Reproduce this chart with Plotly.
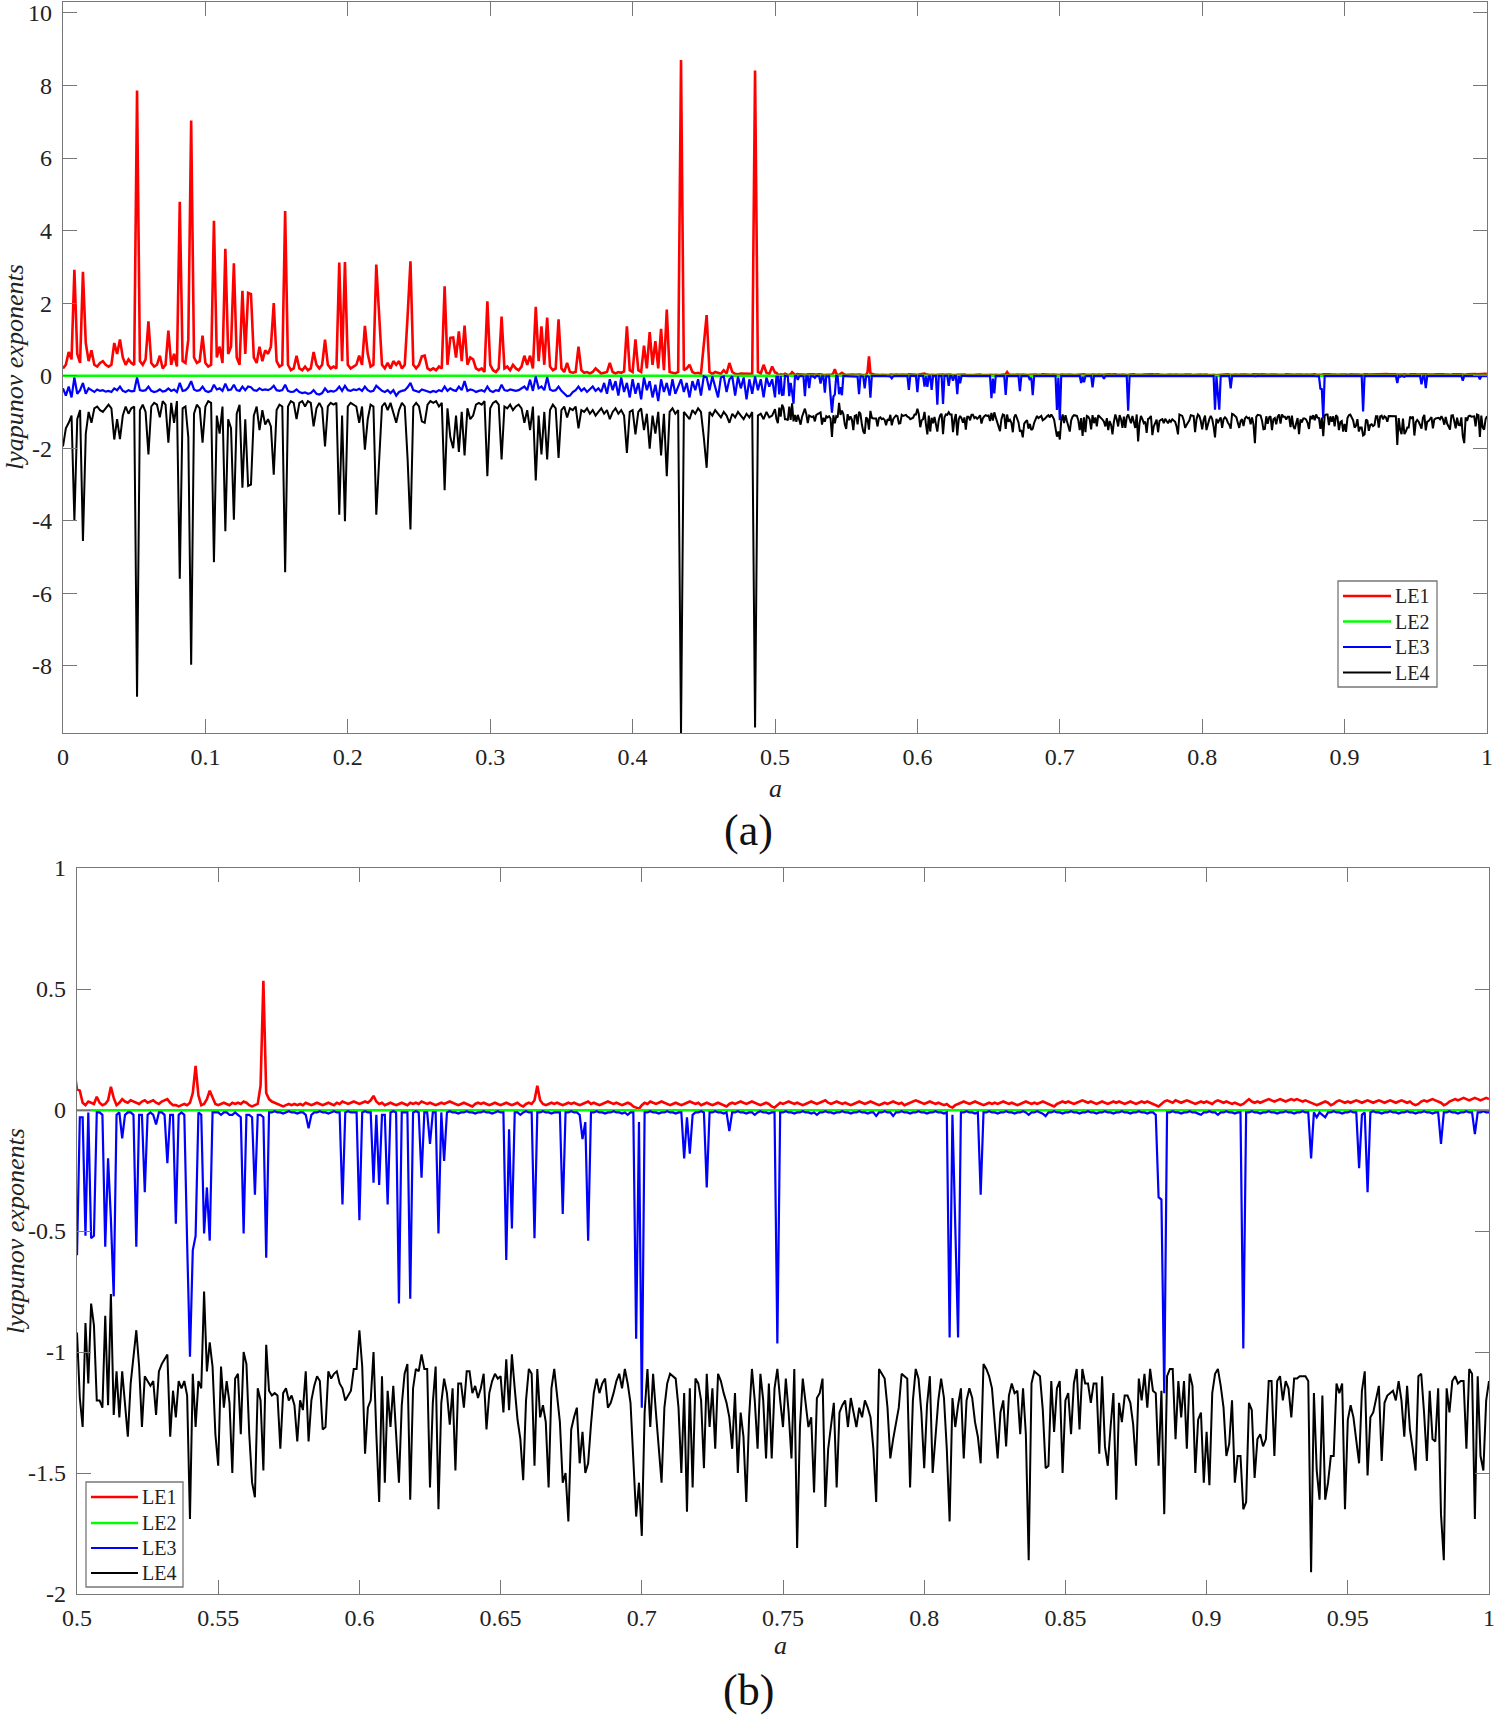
import numpy as np
import plotly.graph_objects as go

W, H = 1494, 1716

a_lo = np.round(np.arange(250) * 0.002, 3)
a_hi = np.round(0.5 + np.arange(501) * 0.001, 3)
a = np.concatenate([a_lo, a_hi])

le1_lo = [
    0.2, 0.3, 0.65, 0.45, 2.92, 0.6, 0.35, 2.86, 0.9, 0.4, 0.7, 0.3, 0.25, 0.35, 0.4, 0.3, 0.25, 0.3, 0.9, 0.6, 1.0, 0.5, 0.3, 0.45, 0.35,
    0.3, 7.86, 0.4, 0.3, 0.45, 1.5, 0.35, 0.25, 0.3, 0.55, 0.2, 0.3, 1.24, 0.3, 0.6, 0.25, 4.79, 0.4, 0.35, 1.0, 7.03, 0.5, 0.35, 0.4, 1.1,
    0.35, 0.25, 0.3, 4.27, 0.5, 0.8, 0.35, 3.5, 0.6, 0.8, 3.1, 0.5, 0.3, 2.34, 0.6, 2.28, 2.25, 0.5, 0.35, 0.8, 0.4, 0.7, 0.6, 0.8, 2.0,
    0.4, 0.25, 0.3, 4.54, 0.3, 0.15, 0.2, 0.55, 0.2, 0.15, 0.25, 0.15, 0.2, 0.65, 0.3, 0.2, 0.3, 0.99, 0.3, 0.2, 0.25, 0.2, 3.12, 0.4, 3.13,
    0.3, 0.2, 0.25, 0.3, 0.55, 0.3, 1.37, 0.6, 0.25, 0.3, 3.06, 1.78, 0.3, 0.2, 0.35, 0.2, 0.4, 0.3, 0.4, 0.2, 0.3, 1.65, 3.15, 0.3, 0.2,
    0.3, 0.53, 0.55, 0.2, 0.15, 0.2, 0.15, 0.25, 0.2, 2.46, 0.3, 1.04, 1.05, 0.5, 1.22, 0.4, 1.38, 0.3, 0.5, 0.45, 0.2, 0.15, 0.2, 0.1, 2.05,
    0.3, 0.15, 0.1, 0.2, 1.63, 0.2, 0.25, 0.15, 0.3, 0.2, 0.15, 0.25, 0.55, 0.3, 0.55, 0.2, 1.9, 0.4, 1.36, 0.3, 1.6, 0.25, 0.15, 0.2, 1.55,
    0.2, 0.1, 0.35, 0.1, 0.08, 0.1, 0.8, 0.15, 0.08, 0.1, 0.06, 0.1, 0.2, 0.12, 0.06, 0.08, 0.1, 0.35, 0.1, 0.06, 0.1, 0.08, 0.12, 1.36, 0.15,
    0.1, 1.0, 0.15, 0.1, 0.83, 0.2, 1.2, 0.3, 0.95, 0.2, 1.29, 0.15, 1.82, 0.1, 0.08, 0.06, 0.1, 8.7, 0.15, 0.2, 0.3, 0.1, 0.06, 0.08, 0.05,
    0.95, 1.67, 0.1, 0.05, 0.1, 0.08, 0.05, 0.15, 0.06, 0.35, 0.1, 0.05, 0.04, 0.06, 0.05, 0.04, 0.05, 0.06, 8.41, 0.1, 0.06, 0.3, 0.08, 0.05, 0.25,
]

le1_hi = [
    0.085, 0.08, 0.03, 0.02, 0.035, 0.03, 0.025, 0.055, 0.03, 0.02, 0.025, 0.04, 0.096, 0.05, 0.02, 0.03, 0.045, 0.035, 0.03, 0.04, 0.035, 0.03, 0.025, 0.035, 0.04,
    0.03, 0.035, 0.04, 0.03, 0.025, 0.035, 0.04, 0.045, 0.03, 0.02, 0.02, 0.015, 0.02, 0.025, 0.02, 0.03, 0.07, 0.182, 0.06, 0.02, 0.025, 0.045, 0.08, 0.05, 0.025,
    0.02, 0.025, 0.03, 0.025, 0.02, 0.03, 0.025, 0.03, 0.025, 0.035, 0.03, 0.02, 0.015, 0.02, 0.025, 0.1, 0.534, 0.07, 0.045, 0.035, 0.03, 0.025, 0.02, 0.015, 0.02,
    0.025, 0.02, 0.025, 0.02, 0.025, 0.02, 0.03, 0.025, 0.02, 0.025, 0.03, 0.025, 0.02, 0.025, 0.03, 0.025, 0.02, 0.03, 0.025, 0.035, 0.03, 0.025, 0.03, 0.035, 0.03,
    0.025, 0.03, 0.035, 0.03, 0.04, 0.058, 0.035, 0.025, 0.03, 0.02, 0.025, 0.03, 0.025, 0.02, 0.025, 0.03, 0.025, 0.02, 0.03, 0.025, 0.03, 0.025, 0.035, 0.03, 0.025,
    0.03, 0.025, 0.02, 0.025, 0.03, 0.025, 0.03, 0.035, 0.03, 0.025, 0.02, 0.025, 0.03, 0.025, 0.02, 0.015, 0.025, 0.03, 0.025, 0.03, 0.025, 0.02, 0.025, 0.03, 0.025,
    0.02, 0.025, 0.03, 0.025, 0.02, 0.025, 0.03, 0.02, 0.015, 0.025, 0.03, 0.025, 0.04, 0.1, 0.04, 0.025, 0.02, 0.025, 0.03, 0.025, 0.03, 0.025, 0.02, 0.025, 0.03,
    0.025, 0.03, 0.025, 0.02, 0.025, 0.03, 0.035, 0.025, 0.03, 0.025, 0.02, 0.025, 0.03, 0.035, 0.03, 0.025, 0.03, 0.025, 0.02, 0.025, 0.03, 0.025, 0.015, 0.01, 0.005,
    0.02, 0.03, 0.025, 0.035, 0.03, 0.025, 0.03, 0.035, 0.03, 0.025, 0.02, 0.025, 0.03, 0.025, 0.02, 0.025, 0.03, 0.035, 0.03, 0.025, 0.03, 0.02, 0.025, 0.03, 0.025,
    0.02, 0.025, 0.03, 0.025, 0.02, 0.015, 0.025, 0.03, 0.025, 0.03, 0.035, 0.03, 0.025, 0.03, 0.035, 0.03, 0.025, 0.02, 0.025, 0.03, 0.025, 0.015, 0.01, 0.02, 0.03,
    0.025, 0.03, 0.035, 0.03, 0.025, 0.03, 0.025, 0.02, 0.025, 0.03, 0.035, 0.03, 0.025, 0.03, 0.035, 0.04, 0.03, 0.025, 0.03, 0.035, 0.03, 0.025, 0.03, 0.025, 0.02,
    0.025, 0.03, 0.035, 0.03, 0.025, 0.03, 0.035, 0.03, 0.025, 0.02, 0.025, 0.03, 0.025, 0.03, 0.035, 0.03, 0.025, 0.03, 0.02, 0.025, 0.03, 0.035, 0.04, 0.035, 0.03,
    0.025, 0.03, 0.035, 0.03, 0.025, 0.03, 0.025, 0.02, 0.025, 0.015, 0.01, 0.02, 0.025, 0.03, 0.035, 0.03, 0.025, 0.03, 0.035, 0.03, 0.025, 0.02, 0.025, 0.03, 0.025,
    0.03, 0.025, 0.03, 0.035, 0.03, 0.025, 0.03, 0.025, 0.02, 0.025, 0.03, 0.035, 0.03, 0.025, 0.03, 0.025, 0.03, 0.035, 0.03, 0.025, 0.02, 0.015, 0.025, 0.03, 0.035,
    0.03, 0.035, 0.03, 0.025, 0.03, 0.035, 0.04, 0.035, 0.03, 0.035, 0.03, 0.025, 0.03, 0.035, 0.03, 0.025, 0.03, 0.035, 0.03, 0.035, 0.03, 0.025, 0.03, 0.035, 0.03,
    0.025, 0.03, 0.035, 0.03, 0.035, 0.03, 0.025, 0.02, 0.015, 0.025, 0.035, 0.04, 0.035, 0.03, 0.04, 0.035, 0.03, 0.035, 0.04, 0.035, 0.03, 0.025, 0.03, 0.035, 0.03,
    0.035, 0.03, 0.025, 0.035, 0.04, 0.035, 0.03, 0.035, 0.03, 0.025, 0.03, 0.025, 0.02, 0.025, 0.035, 0.045, 0.035, 0.03, 0.035, 0.03, 0.035, 0.04, 0.045, 0.04, 0.035,
    0.04, 0.045, 0.04, 0.035, 0.04, 0.045, 0.04, 0.045, 0.04, 0.035, 0.04, 0.035, 0.03, 0.025, 0.02, 0.025, 0.03, 0.035, 0.03, 0.02, 0.025, 0.035, 0.04, 0.035, 0.03,
    0.035, 0.03, 0.035, 0.04, 0.035, 0.03, 0.035, 0.04, 0.035, 0.03, 0.035, 0.04, 0.035, 0.03, 0.035, 0.04, 0.035, 0.03, 0.035, 0.04, 0.035, 0.03, 0.035, 0.025, 0.02,
    0.025, 0.035, 0.04, 0.035, 0.04, 0.045, 0.04, 0.035, 0.03, 0.02, 0.025, 0.035, 0.04, 0.045, 0.04, 0.045, 0.05, 0.045, 0.04, 0.045, 0.05, 0.045, 0.04, 0.045, 0.05,
    0.045,
]

le2_a = [0.0, 0.05, 0.1, 0.15, 0.2, 0.25, 0.3, 0.35, 0.4, 0.45, 0.5, 0.55, 0.6, 0.65, 0.7, 0.75, 0.8, 0.85, 0.9, 0.95, 1.0]
le2 = [-0.004, -0.003, -0.002, -0.003, -0.002, -0.002, -0.003, -0.002, -0.002, -0.001, -0.001,
       -0.001, -0.001, -0.002, -0.001, -0.001, -0.001, -0.001, -0.001, -0.001, -0.001]

le3_lo = [
    -0.35, -0.55, -0.3, -0.6, -0.05, -0.5, -0.4, -0.2, -0.5, -0.35, -0.4, -0.45, -0.38, -0.42, -0.4, -0.44, -0.42, -0.45, -0.35, -0.4, -0.3, -0.42, -0.45, -0.4, -0.43,
    -0.42, -0.05, -0.4, -0.42, -0.4, -0.3, -0.42, -0.45, -0.43, -0.38, -0.44, -0.42, -0.35, -0.42, -0.38, -0.45, -0.2, -0.42, -0.4, -0.32, -0.15, -0.38, -0.42, -0.4, -0.3,
    -0.42, -0.45, -0.42, -0.25, -0.38, -0.35, -0.42, -0.22, -0.4, -0.38, -0.25, -0.4, -0.42, -0.3, -0.4, -0.3, -0.32, -0.4, -0.42, -0.35, -0.4, -0.38, -0.4, -0.36, -0.28,
    -0.4, -0.42, -0.4, -0.25, -0.42, -0.45, -0.44, -0.38, -0.45, -0.48, -0.46, -0.5, -0.48, -0.4, -0.5, -0.52, -0.48, -0.35, -0.45, -0.42, -0.44, -0.4, -0.3, -0.42, -0.28,
    -0.4, -0.42, -0.38, -0.4, -0.36, -0.42, -0.3, -0.4, -0.44, -0.42, -0.28, -0.35, -0.42, -0.45, -0.4, -0.48, -0.4, -0.55, -0.45, -0.42, -0.4, -0.32, -0.2, -0.4, -0.42,
    -0.45, -0.38, -0.4, -0.44, -0.46, -0.42, -0.45, -0.4, -0.43, -0.3, -0.42, -0.35, -0.4, -0.42, -0.3, -0.4, -0.15, -0.42, -0.38, -0.4, -0.45, -0.42, -0.4, -0.44, -0.3,
    -0.42, -0.45, -0.4, -0.42, -0.25, -0.4, -0.42, -0.38, -0.4, -0.42, -0.4, -0.35, -0.3, -0.4, -0.11, -0.42, -0.02, -0.35, -0.3, -0.4, -0.04, -0.38, -0.42, -0.4, -0.3,
    -0.42, -0.5, -0.57, -0.55, -0.45, -0.4, -0.3, -0.42, -0.35, -0.45, -0.38, -0.3, -0.42, -0.35, -0.45, -0.2, -0.5, -0.1, -0.4, -0.15, -0.55, -0.05, -0.45, -0.2, -0.6,
    -0.1, -0.5, -0.2, -0.65, -0.05, -0.4, -0.15, -0.6, -0.25, -0.7, -0.1, -0.45, -0.2, -0.55, -0.1, -0.5, -0.3, -0.1, -0.45, -0.2, -0.6, -0.15, -0.4, -0.1, -0.55,
    -0.02, -0.05, -0.4, -0.02, -0.3, -0.6, -0.05, -0.02, -0.45, -0.1, -0.02, -0.55, -0.03, -0.35, -0.05, -0.65, -0.1, -0.5, -0.02, -0.4, -0.1, -0.6, -0.05, -0.3, -0.1,
]

le3_hi = [
    -0.6, -0.03, -0.03, -0.52, -0.01, -0.53, -0.52, -0.01, -0.01, -0.02, -0.565, -0.2, -0.45, -0.77, -0.02, -0.01, -0.117, -0.02, -0.01, -0.01, -0.02, -0.565, -0.02, -0.02, -0.34,
    -0.02, -0.01, -0.02, -0.06, -0.01, -0.01, -0.02, -0.22, -0.02, -0.02, -0.47, -0.02, -0.01, -0.02, -0.55, -1.02, -0.58, -0.52, -0.01, -0.02, -0.51, -0.32, -0.54, -0.01, -0.01,
    -0.01, -0.02, -0.01, -0.01, -0.02, -0.02, -0.01, -0.02, -0.03, -0.51, -0.02, -0.02, -0.03, -0.35, -0.02, -0.02, -0.03, -0.61, -0.01, -0.01, -0.005, -0.01, -0.01, -0.015, -0.01,
    -0.005, -0.01, -0.01, -0.015, -0.01, -0.01, -0.02, -0.076, -0.02, -0.01, -0.01, -0.005, -0.01, -0.01, -0.015, -0.01, -0.005, -0.01, -0.01, -0.39, -0.01, -0.005, -0.01, -0.01, -0.01,
    -0.455, -0.01, -0.005, -0.01, -0.01, -0.3, -0.02, -0.31, -0.02, -0.02, -0.39, -0.01, -0.005, -0.01, -0.8, -0.01, -0.01, -0.01, -0.78, -0.01, -0.005, -0.01, -0.28, -0.01, -0.01,
    -0.14, -0.01, -0.01, -0.51, -0.01, -0.21, -0.01, -0.005, -0.01, -0.01, -0.015, -0.01, -0.01, -0.005, -0.01, -0.01, -0.015, -0.01, -0.01, -0.005, -0.01, -0.01, -0.015, -0.01, -0.005,
    -0.01, -0.01, -0.62, -0.08, -0.49, -0.01, -0.01, -0.02, -0.01, -0.005, -0.01, -0.01, -0.53, -0.01, -0.01, -0.005, -0.01, -0.01, -0.015, -0.01, -0.01, -0.01, -0.43, -0.01, -0.01,
    -0.005, -0.01, -0.01, -0.02, -0.12, -0.05, -0.54, -0.01, -0.01, -0.005, -0.01, -0.01, -0.015, -0.01, -0.01, -0.005, -0.01, -0.01, -0.015, -0.01, -0.02, -0.01, -0.01, -0.945, -0.05,
    -1.23, -0.01, -0.01, -0.005, -0.01, -0.01, -0.015, -0.01, -0.01, -0.005, -0.01, -0.01, -0.015, -0.01, -0.01, -0.2, -0.03, -0.18, -0.02, -0.01, -0.01, -0.005, -0.01, -0.32, -0.01,
    -0.01, -0.005, -0.01, -0.01, -0.015, -0.01, -0.087, -0.01, -0.01, -0.005, -0.01, -0.01, -0.015, -0.01, -0.01, -0.02, -0.01, -0.005, -0.01, -0.01, -0.015, -0.01, -0.01, -0.965, -0.01,
    -0.01, -0.005, -0.01, -0.01, -0.015, -0.01, -0.01, -0.005, -0.01, -0.01, -0.015, -0.01, -0.02, -0.01, -0.01, -0.005, -0.01, -0.01, -0.015, -0.01, -0.01, -0.005, -0.01, -0.01, -0.015,
    -0.01, -0.01, -0.005, -0.01, -0.01, -0.015, -0.01, -0.01, -0.025, -0.01, -0.01, -0.005, -0.01, -0.01, -0.025, -0.01, -0.01, -0.005, -0.01, -0.01, -0.015, -0.01, -0.01, -0.005, -0.01,
    -0.01, -0.015, -0.01, -0.01, -0.005, -0.01, -0.01, -0.015, -0.01, -0.94, -0.02, -0.5, -0.94, -0.01, -0.01, -0.005, -0.01, -0.01, -0.015, -0.01, -0.35, -0.01, -0.01, -0.005, -0.01,
    -0.01, -0.015, -0.01, -0.01, -0.005, -0.01, -0.01, -0.015, -0.01, -0.01, -0.005, -0.01, -0.02, -0.01, -0.01, -0.005, -0.01, -0.015, -0.025, -0.01, -0.01, -0.005, -0.01, -0.01, -0.015,
    -0.01, -0.01, -0.005, -0.01, -0.01, -0.015, -0.01, -0.01, -0.005, -0.01, -0.01, -0.015, -0.01, -0.01, -0.005, -0.01, -0.01, -0.015, -0.01, -0.01, -0.005, -0.01, -0.01, -0.015, -0.01,
    -0.01, -0.005, -0.01, -0.01, -0.015, -0.01, -0.01, -0.02, -0.36, -0.37, -1.17, -0.01, -0.01, -0.005, -0.01, -0.01, -0.015, -0.01, -0.01, -0.005, -0.01, -0.01, -0.015, -0.02, -0.01,
    -0.01, -0.005, -0.01, -0.01, -0.02, -0.01, -0.01, -0.005, -0.01, -0.01, -0.015, -0.01, -0.01, -0.985, -0.01, -0.01, -0.005, -0.01, -0.01, -0.015, -0.01, -0.01, -0.005, -0.01, -0.01,
    -0.015, -0.01, -0.01, -0.005, -0.01, -0.01, -0.015, -0.01, -0.01, -0.005, -0.01, -0.01, -0.2, -0.01, -0.03, -0.01, -0.02, -0.03, -0.01, -0.01, -0.005, -0.01, -0.01, -0.015, -0.01,
    -0.01, -0.005, -0.01, -0.01, -0.24, -0.02, -0.01, -0.34, -0.01, -0.005, -0.01, -0.01, -0.015, -0.01, -0.01, -0.005, -0.01, -0.01, -0.015, -0.01, -0.01, -0.005, -0.01, -0.01, -0.015,
    -0.01, -0.01, -0.005, -0.01, -0.01, -0.015, -0.01, -0.01, -0.14, -0.01, -0.01, -0.005, -0.01, -0.01, -0.015, -0.01, -0.01, -0.005, -0.01, -0.01, -0.1, -0.01, -0.01, -0.005, -0.01,
    -0.01,
]

le4_lo = [
    -1.95, -1.45, -1.3, -1.1, -4.0, -1.2, -0.95, -4.56, -1.6, -1.0, -1.3, -0.9, -0.85, -0.95, -1.0, -0.9, -0.8, -0.9, -1.76, -1.2, -1.75, -1.1, -0.85, -1.05, -0.9,
    -0.85, -8.85, -0.95, -0.8, -1.0, -2.17, -0.85, -0.75, -0.8, -1.15, -0.7, -0.8, -1.85, -0.75, -1.3, -0.7, -5.6, -0.9, -0.85, -1.7, -7.97, -1.05, -0.8, -0.9, -1.85,
    -0.85, -0.7, -0.75, -5.14, -1.1, -1.6, -0.85, -4.29, -1.2, -1.45, -3.97, -1.05, -0.8, -3.09, -1.2, -3.04, -3.0, -1.1, -0.85, -1.5, -0.95, -1.35, -1.2, -1.4, -2.73,
    -0.95, -0.8, -0.85, -5.42, -0.85, -0.7, -0.75, -1.2, -0.75, -0.7, -0.85, -0.7, -0.75, -1.4, -0.9, -0.75, -0.9, -1.95, -0.85, -0.75, -0.8, -0.75, -3.83, -1.1, -4.01,
    -0.85, -0.75, -0.8, -0.85, -1.3, -0.85, -2.04, -1.2, -0.8, -0.85, -3.83, -2.45, -0.85, -0.75, -0.95, -0.75, -1.0, -1.3, -0.95, -0.75, -0.85, -2.3, -4.24, -0.85, -0.75,
    -0.85, -1.26, -1.3, -0.8, -0.7, -0.75, -0.7, -0.85, -0.75, -3.16, -0.9, -1.7, -2.0, -1.1, -2.1, -1.0, -2.2, -0.9, -1.2, -1.1, -0.8, -0.75, -0.8, -0.7, -2.77,
    -0.9, -0.75, -0.7, -0.8, -2.31, -0.85, -0.9, -0.8, -0.95, -0.85, -0.8, -0.9, -1.3, -0.95, -1.5, -0.85, -2.89, -1.1, -2.17, -1.0, -2.31, -0.95, -0.8, -0.9, -2.27,
    -0.95, -0.85, -1.15, -0.9, -0.95, -0.85, -1.45, -0.95, -1.0, -0.9, -1.05, -0.95, -1.1, -1.0, -0.9, -1.05, -0.95, -1.2, -1.0, -0.9, -1.05, -0.95, -1.1, -2.13, -1.0,
    -0.95, -1.62, -1.0, -0.9, -1.5, -1.05, -2.01, -1.1, -1.6, -1.0, -2.2, -1.05, -2.77, -1.0, -0.9, -1.05, -0.95, -9.85, -1.0, -1.1, -1.2, -0.95, -1.05, -0.9, -1.0,
    -1.7, -2.54, -1.0, -1.1, -0.95, -1.05, -1.15, -1.0, -1.1, -1.3, -1.05, -1.15, -1.0, -1.1, -1.2, -1.05, -1.15, -1.0, -9.7, -1.1, -1.05, -1.2, -1.0, -1.15, -1.1,
]

le4_hi = [
    -0.92, -1.19, -1.31, -0.88, -1.13, -0.80, -0.89, -1.20, -1.20, -1.23, -0.85, -1.22, -0.76, -1.26, -1.08, -1.27, -1.08, -1.20, -1.35, -1.13, -1.02, -0.91, -1.06, -1.31, -1.10,
    -1.12, -1.14, -1.12, -1.26, -1.08, -1.05, -1.03, -1.01, -1.35, -1.16, -1.27, -1.12, -1.15, -1.12, -1.18, -1.69, -1.09, -1.31, -1.12, -1.15, -0.75, -1.08, -0.96, -1.06, -1.34,
    -1.47, -1.06, -1.23, -1.12, -1.21, -1.50, -1.11, -1.09, -1.34, -1.00, -1.05, -1.34, -1.54, -1.60, -1.15, -1.20, -1.49, -0.97, -1.16, -1.18, -1.17, -1.18, -1.40, -1.17, -1.15,
    -1.20, -1.18, -1.22, -1.37, -1.20, -1.24, -1.08, -1.37, -1.20, -1.14, -1.10, -1.12, -1.32, -1.31, -1.08, -1.11, -1.09, -1.08, -1.13, -1.15, -1.20, -1.18, -1.16, -1.07, -1.07,
    -0.91, -1.06, -1.42, -1.23, -1.20, -1.00, -1.34, -1.62, -1.10, -1.54, -1.16, -1.31, -1.14, -1.32, -1.54, -1.22, -1.09, -1.05, -1.61, -1.15, -1.07, -1.08, -1.01, -1.07, -1.07,
    -1.56, -1.21, -1.06, -1.65, -1.21, -1.11, -1.17, -1.30, -1.15, -1.49, -1.13, -1.13, -1.23, -1.08, -1.08, -1.17, -1.14, -1.19, -1.15, -1.09, -1.32, -1.17, -1.12, -1.09, -1.11,
    -1.10, -1.25, -1.03, -1.24, -1.01, -1.15, -1.28, -1.36, -1.53, -1.20, -1.07, -1.09, -1.47, -1.07, -1.27, -1.22, -1.29, -1.56, -1.15, -1.07, -1.18, -1.29, -1.54, -1.50, -1.70,
    -1.32, -1.27, -1.23, -1.46, -1.33, -1.50, -1.46, -1.30, -1.17, -1.11, -1.17, -1.13, -1.11, -1.23, -1.21, -1.17, -1.12, -1.09, -1.15, -1.07, -1.13, -1.21, -1.45, -1.68, -1.54,
    -1.76, -1.25, -1.07, -1.31, -1.09, -1.25, -1.40, -1.54, -1.23, -1.13, -1.09, -1.10, -1.11, -1.23, -1.50, -1.17, -1.66, -1.15, -1.56, -1.11, -1.13, -1.20, -1.48, -1.09, -1.31,
    -1.15, -1.40, -1.09, -1.12, -1.17, -1.21, -1.27, -1.40, -1.17, -1.50, -1.25, -1.35, -1.62, -1.27, -1.07, -1.20, -1.40, -1.09, -1.20, -1.44, -1.13, -1.44, -1.15, -1.07, -1.20,
    -1.31, -1.11, -1.25, -1.44, -1.07, -1.81, -1.31, -1.11, -1.20, -1.31, -1.27, -1.58, -1.19, -1.17, -1.11, -1.64, -1.40, -1.31, -1.21, -1.56, -1.25, -1.22, -1.20, -1.31, -1.19,
    -1.25, -1.31, -1.23, -1.27, -1.20, -1.23, -1.27, -1.40, -1.62, -1.07, -1.09, -1.11, -1.23, -1.44, -1.36, -1.30, -1.23, -1.09, -1.10, -1.11, -1.56, -1.20, -1.07, -1.11, -1.25,
    -1.48, -1.22, -1.10, -1.50, -1.34, -1.20, -1.11, -1.19, -1.40, -1.70, -1.19, -1.31, -1.22, -1.15, -1.44, -1.20, -1.15, -1.19, -1.29, -1.35, -1.46, -1.05, -1.07, -1.10, -1.15,
    -1.30, -1.44, -1.25, -1.20, -1.39, -1.18, -1.13, -1.17, -1.16, -1.34, -1.15, -1.34, -1.86, -1.13, -1.08, -1.09, -1.10, -1.24, -1.48, -1.47, -1.12, -1.33, -1.15, -1.12, -1.50,
    -1.20, -1.17, -1.34, -1.13, -1.07, -1.32, -1.07, -1.13, -1.13, -1.21, -1.13, -1.13, -1.42, -1.10, -1.39, -1.47, -1.31, -1.17, -1.61, -1.21, -1.29, -1.18, -1.18, -1.21, -1.30,
    -1.47, -1.11, -1.20, -1.09, -1.23, -1.07, -1.16, -1.17, -1.47, -1.16, -1.67, -1.10, -1.07, -1.07, -1.36, -1.12, -1.27, -1.12, -1.40, -1.09, -1.14, -1.50, -1.28, -1.25, -1.54,
    -1.33, -1.55, -1.17, -1.09, -1.07, -1.14, -1.23, -1.43, -1.38, -1.20, -1.54, -1.43, -1.43, -1.65, -1.62, -1.21, -1.24, -1.52, -1.36, -1.34, -1.39, -1.36, -1.12, -1.12, -1.43,
    -1.12, -1.10, -1.20, -1.12, -1.15, -1.27, -1.11, -1.11, -1.10, -1.10, -1.10, -1.12, -1.91, -1.17, -1.49, -1.61, -1.18, -1.61, -1.54, -1.43, -1.43, -1.13, -1.17, -1.13, -1.65,
    -1.28, -1.22, -1.27, -1.36, -1.46, -1.16, -1.08, -1.51, -1.27, -1.25, -1.20, -1.14, -1.45, -1.21, -1.18, -1.17, -1.16, -1.20, -1.12, -1.20, -1.35, -1.14, -1.32, -1.40, -1.49,
    -1.10, -1.09, -1.25, -1.45, -1.16, -1.36, -1.37, -1.15, -1.67, -1.86, -1.15, -1.25, -1.12, -1.10, -1.13, -1.12, -1.12, -1.40, -1.07, -1.09, -1.69, -1.10, -1.43, -1.49, -1.20,
    -1.12,
]

for name, lo, hi in [("le1", le1_lo, le1_hi), ("le3", le3_lo, le3_hi), ("le4", le4_lo, le4_hi)]:
    assert len(lo) == len(a_lo), (name, len(lo))
    assert len(hi) == len(a_hi), (name, len(hi))

series = {
    "LE1": (a, le1_lo + le1_hi),
    "LE2": (le2_a, le2),
    "LE3": (a, le3_lo + le3_hi),
    "LE4": (a, le4_lo + le4_hi),
}
colors = {"LE1": "#ff0000", "LE2": "#00ff00", "LE3": "#0000ff", "LE4": "#000000"}
widths = {"LE1": 2.6, "LE2": 2.4, "LE3": 2.2, "LE4": 2.0}


def px(x):
    return x / W


def py(y):
    return 1 - y / H


fig = go.Figure()
for xa, ya in [("x", "y"), ("x2", "y2")]:
    for name, (xs, ys) in series.items():
        fig.add_trace(go.Scatter(x=xs, y=ys, mode="lines", name=name, xaxis=xa, yaxis=ya,
                                 line=dict(color=colors[name], width=widths[name]),
                                 showlegend=False))

serif = "Liberation Serif, Times New Roman, serif"
axis_style = dict(showline=True, linecolor="#777777", linewidth=1.3, mirror="ticks",
                  ticks="inside", ticklen=14, tickwidth=1.2, tickcolor="#777777",
                  showgrid=False, zeroline=False, automargin=False, ticklabeloverflow="allow",
                  tickfont=dict(family=serif, size=24, color="#222222"))

xa_ticks = [0, 0.1, 0.2, 0.3, 0.4, 0.5, 0.6, 0.7, 0.8, 0.9, 1]
xa_text = ["0", "0.1", "0.2", "0.3", "0.4", "0.5", "0.6", "0.7", "0.8", "0.9", "1"]
ya_ticks = [-8, -6, -4, -2, 0, 2, 4, 6, 8, 10]
ya_text = ["-8", "-6", "-4", "-2", "0", "2", "4", "6", "8", "10"]
xb_ticks = [0.5, 0.55, 0.6, 0.65, 0.7, 0.75, 0.8, 0.85, 0.9, 0.95, 1]
xb_text = ["0.5", "0.55", "0.6", "0.65", "0.7", "0.75", "0.8", "0.85", "0.9", "0.95", "1"]
yb_ticks = [-2, -1.5, -1, -0.5, 0, 0.5, 1]
yb_text = ["-2", "-1.5", "-1", "-0.5", "0", "0.5", "1"]

fig.update_layout(
    width=W, height=H, template="none",
    margin=dict(l=0, r=0, t=0, b=0),
    paper_bgcolor="white", plot_bgcolor="white", showlegend=False,
    xaxis=dict(axis_style, domain=[px(63), px(1487)], range=[0, 1], anchor="y",
               tickvals=xa_ticks, ticktext=xa_text, ticklabelstandoff=2),
    yaxis=dict(axis_style, domain=[py(733), py(2)], range=[-9.85, 10.3], anchor="x",
               tickvals=ya_ticks, ticktext=ya_text, ticklabelstandoff=5),
    xaxis2=dict(axis_style, domain=[px(77), px(1489)], range=[0.5, 1], anchor="y2",
                tickvals=xb_ticks, ticktext=xb_text, ticklabelstandoff=2),
    yaxis2=dict(axis_style, domain=[py(1594), py(868)], range=[-2, 1], anchor="x2",
                tickvals=yb_ticks, ticktext=yb_text, ticklabelstandoff=5),
)

annotations = []
for yc in [367, 1231]:
    annotations.append(dict(x=px(15), y=py(yc), xref="paper", yref="paper", showarrow=False,
                            text="<i>lyapunov exponents</i>", textangle=-90,
                            font=dict(family=serif, size=26, color="#222222"),
                            xanchor="center", yanchor="middle"))
for xc, yc in [(775, 788), (781, 1645)]:
    annotations.append(dict(x=px(xc), y=py(yc), xref="paper", yref="paper", showarrow=False,
                            text="<i>a</i>", font=dict(family=serif, size=26, color="#222222"),
                            xanchor="center", yanchor="middle"))
for label, yc in [("(a)", 830), ("(b)", 1690)]:
    annotations.append(dict(x=px(748), y=py(yc), xref="paper", yref="paper", showarrow=False,
                            text=label, font=dict(family=serif, size=44, color="#111111"),
                            xanchor="center", yanchor="middle"))

shapes = []
legend_boxes = [
    dict(box=(1338, 581, 1437, 687), x0=1343, x1=1391, rows=[596, 621.5, 647, 672.5]),
    dict(box=(86, 1482, 183, 1587), x0=91, x1=138, rows=[1497, 1523, 1548, 1573]),
]
for lg in legend_boxes:
    bx0, by0, bx1, by1 = lg["box"]
    shapes.append(dict(type="rect", xref="paper", yref="paper", x0=px(bx0), x1=px(bx1),
                       y0=py(by1), y1=py(by0), line=dict(color="#777777", width=1.3),
                       fillcolor="white", layer="above"))
    for name, yr in zip(series.keys(), lg["rows"]):
        shapes.append(dict(type="line", xref="paper", yref="paper", x0=px(lg["x0"]), x1=px(lg["x1"]),
                           y0=py(yr), y1=py(yr), line=dict(color=colors[name], width=widths[name]),
                           layer="above"))
        annotations.append(dict(x=px(lg["x1"] + 2), y=py(yr), xref="paper", yref="paper",
                                showarrow=False, text=name, xanchor="left", yanchor="middle",
                                font=dict(family=serif, size=20, color="#222222")))

fig.update_layout(annotations=annotations, shapes=shapes)

fig.write_html("out.html", config={"displayModeBar": False},
               post_script="document.body.style.margin='0';")
